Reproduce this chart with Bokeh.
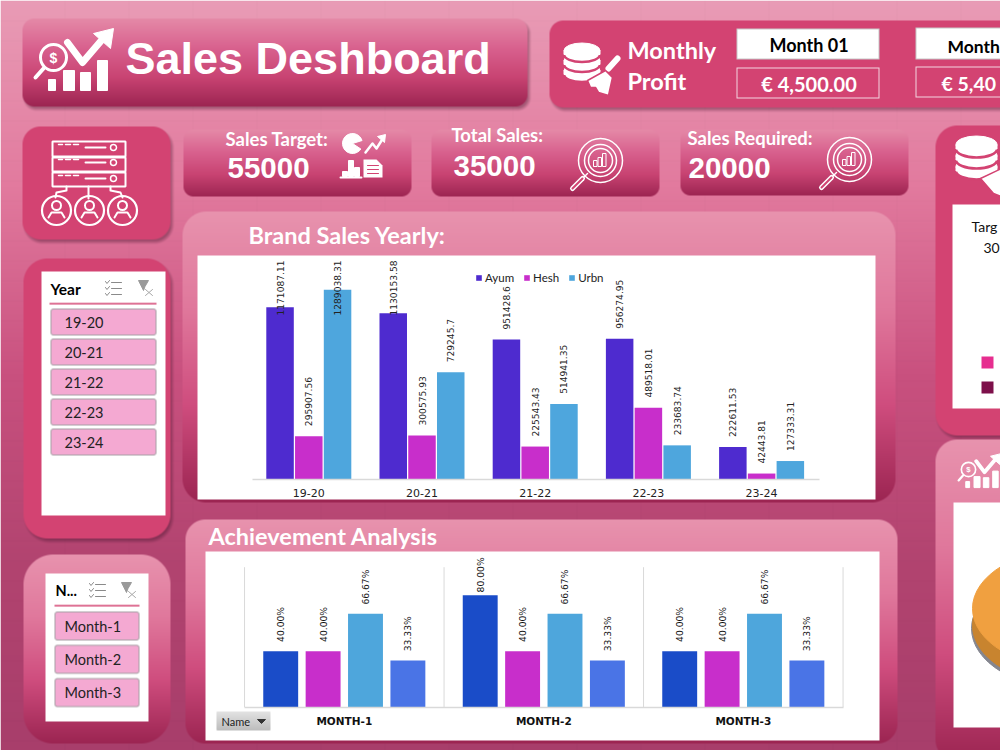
import math
import numpy as np
from bokeh.core.properties import value
from bokeh.embed import file_html
from bokeh.models import FixedTicker, Legend, LegendItem, LinearAxis, Range1d
from bokeh.plotting import figure
from bokeh.resources import INLINE

years = ["19-20", "20-21", "21-22", "22-23", "23-24"]
ayum = [1171087.11, 1130153.58, 951428.6, 956274.95, 222611.53]
hesh = [295907.56, 300575.93, 225543.43, 489518.01, 42443.81]
urbn = [1289038.31, 729245.7, 514941.35, 233683.74, 127333.31]

months = ["Month-1", "Month-2", "Month-3"]
ach_a = [40.0, 80.0, 40.0]
ach_b = [40.0, 40.0, 40.0]
ach_c = [66.67, 66.67, 66.67]
ach_d = [33.33, 33.33, 33.33]

sales_target = 55000
total_sales = 35000
sales_required = 20000
month_profit = "€ 4,500.00"

W, H = 1000, 750
PINK = "#d34372"
LATO = "Lato"
ARIAL = "Liberation Sans"
DEJA = "DejaVu Sans"

# ---------- background raster: page gradient and rounded panels ----------
rows = np.arange(H) + 1.5
cols = np.arange(W) + 1.5
xx, yy = np.meshgrid(cols, rows)


def hexrgb(c):
    return [int(c[i:i + 2], 16) for i in (1, 3, 5)]


def vgrad(y0, y1, stops):
    pos = np.linspace(0, 1, len(stops))
    t = np.clip((yy - y0) / (y1 - y0), 0, 1)
    rgb = np.array([hexrgb(s) for s in stops], dtype=float)
    return np.dstack([np.interp(t, pos, rgb[:, k]) for k in range(3)])


def sdf(x0, y0, x1, y1, r):
    dx = np.abs(xx - (x0 + x1) / 2) - ((x1 - x0) / 2 - r)
    dy = np.abs(yy - (y0 + y1) / 2) - ((y1 - y0) / 2 - r)
    return np.hypot(np.maximum(dx, 0), np.maximum(dy, 0)) + np.minimum(np.maximum(dx, dy), 0) - r


canvas = vgrad(0, H, ["#e99cb6", "#e27a9e", "#c9517f", "#b24470", "#a83e6b"])
# faint sheet gridlines
canvas[np.arange(H) % 20 == 0] *= 0.985
canvas[:, np.arange(W) % 64 == 0] *= 0.985


def panel(x0, y0, x1, y1, r, stops, shadow=False, edge=None):
    global canvas
    if shadow:
        d = sdf(x0 + 2, y0 + 3, x1 + 2, y1 + 3, r)
        a = np.clip(0.5 - d / 4, 0, 1)[..., None] * 0.4
        canvas = canvas * (1 - a) + np.array([70, 20, 45]) * a
    d = sdf(x0, y0, x1, y1, r)
    if edge:
        a = np.clip(0.5 - d, 0, 1)[..., None]
        canvas = canvas * (1 - a) + np.array(hexrgb(edge)) * a
        d = sdf(x0 + 1, y0 + 1, x1 - 1, y1 - 1, max(r - 1, 0))
    a = np.clip(0.5 - d, 0, 1)[..., None]
    canvas = canvas * (1 - a) + vgrad(y0, y1, stops) * a


CARD = ["#e58aa8", "#d9628f", "#c94473", "#9c2552"]
SOFT = ["#e893ae", "#e0789c", "#cf4d7e", "#9c2552"]
WHITE = ["#ffffff", "#ffffff"]
FLAT = [PINK, PINK]

panel(23, 19, 528, 107, 12, CARD, shadow=True)
panel(550, 21, 1030, 108, 14, FLAT, shadow=True)
panel(23, 127, 171, 240, 18, FLAT, shadow=True)
panel(184, 130, 412, 197, 10, CARD)
panel(432, 130, 660, 197, 10, CARD)
panel(681, 130, 909, 196, 10, CARD)
panel(183, 212, 896, 503, 24, SOFT)
panel(198, 256, 876, 500, 0, WHITE)
panel(24, 259, 171, 539, 24, FLAT, shadow=True)
panel(42, 272, 166, 516, 0, WHITE)
panel(24, 555, 171, 744, 30, SOFT)
panel(46, 574, 149, 722, 0, WHITE)
panel(186, 520, 898, 744, 20, SOFT)
panel(206, 552, 880, 741, 0, WHITE)
panel(936, 126, 1030, 436, 22, FLAT, shadow=True)
panel(953, 205, 1010, 409, 0, WHITE)
panel(936, 440, 1030, 762, 22, SOFT)
panel(954, 503, 1010, 728, 0, WHITE)
panel(737, 29, 880, 60, 0, WHITE, edge="#c8c8c8")
panel(916, 28, 1010, 60, 0, WHITE, edge="#c8c8c8")
panel(737, 68, 880, 99, 0, FLAT, edge="#f4d6e0")
panel(916, 67, 1010, 98, 0, FLAT, edge="#f4d6e0")

for i in range(len(years)):
    panel(51, 309 + 30 * i, 157, 336 + 30 * i, 3, ["#f4a9d2", "#f4a9d2"], edge="#a8a0a6")
for i in range(len(months)):
    panel(55, 612 + 33.3 * i, 140, 641 + 33.3 * i, 3, ["#f4a9d2", "#f4a9d2"], edge="#a8a0a6")
panel(50, 303.5, 157, 305, 0, FLAT)
panel(55, 605.5, 140, 607, 0, FLAT)
panel(217, 712, 271, 731, 1, ["#e2e2e2", "#bdbdbd"])

rgba = np.dstack([np.clip(canvas, 0, 255), np.full((H, W), 255.0)]).astype(np.uint8)

# ---------- figure in page pixels; the charts get their own ranges ----------
BRAND_K = 147.4e-6   # px per unit
BRAND_Y0 = 479.3
ACH_K = 1.40         # px per percent
ACH_Y0 = 706.7
BRAND_X0, BRAND_DX = 308.3, 113.2
ACH_X0, ACH_DX = 343.8, 199.5

p = figure(width=W, height=H, x_range=Range1d(0, W), y_range=Range1d(H, 0),
           x_axis_location=None, y_axis_location=None, toolbar_location=None,
           output_backend="svg", min_border=0, outline_line_color=None,
           styles={"position": "absolute", "left": "0", "top": "0"})
p.grid.visible = False
p.extra_x_ranges = {
    "brand": Range1d(-BRAND_X0 / BRAND_DX, (W - BRAND_X0) / BRAND_DX),
    "ach": Range1d(-ACH_X0 / ACH_DX, (W - ACH_X0) / ACH_DX),
}
p.extra_y_ranges = {
    "brand": Range1d((BRAND_Y0 - H) / BRAND_K, BRAND_Y0 / BRAND_K),
    "ach": Range1d((ACH_Y0 - H) / ACH_K, ACH_Y0 / ACH_K),
}

p.image_rgba(image=[rgba.view(dtype=np.uint32).reshape(H, W)], x=0, y=0, dw=W, dh=H)


def txt(x, y, s, size, color="white", bold=True, font=LATO, align="left"):
    p.text([x], [y], text=[str(s)], text_font=value(font), text_font_size=f"{size}px",
           text_color=color, text_align=align, text_baseline="middle",
           text_font_style="bold" if bold else "normal")


def segs(xs, ys, color="white", w=2.0):
    p.multi_line(xs, ys, line_color=color, line_width=w, line_cap="round", line_join="round")


def ring(x, y, r, color="white", w=2.0, fill=None):
    p.circle([x], [y], radius=r, fill_color=fill, line_color=color, line_width=w)


# ---------- brand chart ----------
brand_series = [("Ayum", ayum, "#4e2bcf"), ("Hesh", hesh, "#c82ecb"), ("Urbn", urbn, "#4ea6dd")]
items = []
for k, (name, vals, col) in enumerate(brand_series):
    xs = [i + (k - 1) * 0.254 for i in range(len(years))]
    r = p.vbar(x=xs, top=vals, bottom=0, width=0.243, fill_color=col, line_color=None,
               x_range_name="brand", y_range_name="brand")
    items.append(LegendItem(label=name, renderers=[r]))
    # labels sit above the bar, but stop at the top of the chart area
    label_y = [min(v + 68000, 1114700) for v in vals]
    p.text(xs, label_y, text=[str(v) for v in vals], angle=math.pi / 2, text_align="left",
           text_baseline="middle", text_font=value(DEJA), text_font_size="9.1px", text_color="#222222",
           x_range_name="brand", y_range_name="brand")

brand_axis = LinearAxis(x_range_name="brand", y_range_name="brand", fixed_location=0,
                        ticker=FixedTicker(ticks=list(range(len(years)))),
                        major_label_overrides={i: y for i, y in enumerate(years)},
                        bounds=(-0.496, 4.51), axis_line_color="#d9d9d9", axis_line_width=1.5,
                        major_tick_line_color=None, minor_tick_line_color=None,
                        major_tick_out=0, major_tick_in=0,
                        major_label_text_font=DEJA, major_label_text_font_size="11px",
                        major_label_text_color="#222222", major_label_standoff=9)
p.add_layout(brand_axis, "below")

legend = Legend(items=items, orientation="horizontal", location=(475, H - 284), padding=0, margin=0,
                spacing=9, glyph_width=7, glyph_height=7, label_standoff=3, label_height=12,
                label_text_font=LATO, label_text_font_size="11.5px", label_text_color="#222222",
                background_fill_alpha=0, border_line_color=None)
p.add_layout(legend, "center")

# ---------- achievement chart ----------
ach_series = [(ach_a, "#1a4cc8"), (ach_b, "#c82ecb"), (ach_c, "#4ea6dc"), (ach_d, "#4a74e6")]
for k, (vals, col) in enumerate(ach_series):
    xs = [i + (k - 1.5) * 0.2125 for i in range(len(months))]
    p.vbar(x=xs, top=vals, bottom=0, width=0.175, fill_color=col, line_color=None,
           x_range_name="ach", y_range_name="ach")
    label_y = [min(v + 6.6, 82) for v in vals]
    p.text(xs, label_y, text=[f"{v:.2f}%" for v in vals], angle=math.pi / 2, text_align="left",
           text_baseline="middle", text_font=value(DEJA), text_font_size="9.2px", text_color="#111111",
           x_range_name="ach", y_range_name="ach")

p.segment(x0=[-0.5, 0.5, 1.5, 2.5], y0=0, x1=[-0.5, 0.5, 1.5, 2.5], y1=100, line_color="#d9d9d9",
          line_width=1, x_range_name="ach", y_range_name="ach")
ach_axis = LinearAxis(x_range_name="ach", y_range_name="ach", fixed_location=0,
                      ticker=FixedTicker(ticks=list(range(len(months)))),
                      major_label_overrides={i: m.upper() for i, m in enumerate(months)},
                      bounds=(-0.5, 2.5), axis_line_color="#d9d9d9", axis_line_width=1.5,
                      major_tick_line_color=None, minor_tick_line_color=None,
                      major_tick_out=0, major_tick_in=0,
                      major_label_text_font=DEJA, major_label_text_font_size="10.5px",
                      major_label_text_font_style="bold", major_label_text_color="#111111",
                      major_label_standoff=8)
p.add_layout(ach_axis, "below")
txt(221, 721, "Name", 11, "#222222", bold=False)
p.patch([257, 265, 261], [719, 719, 723], color="#333333")

# ---------- headings and KPI texts ----------
txt(125, 58, "Sales Deshboard", 45, font=ARIAL)
txt(627, 49, "Monthly", 23.5)
txt(627, 80, "Profit", 23.5)
txt(808.5, 44.5, "Month 01", 18, "#000000", align="center")
txt(947, 45.5, "Month", 17.5, "#000000")
txt(808.5, 83, month_profit, 20, align="center")
txt(941, 83, "€ 5,40", 19.5)

txt(225, 138, "Sales Target:", 18.5)
txt(227, 167, sales_target, 29.5, font=ARIAL)
txt(451, 134, "Total Sales:", 18.5)
txt(453, 165, total_sales, 29.5, font=ARIAL)
txt(687, 137, "Sales Required:", 18.5)
txt(688, 167, sales_required, 29.5, font=ARIAL)
txt(248, 234, "Brand Sales Yearly:", 23.5)
txt(208, 535, "Achievement Analysis", 23.5)

# ---------- slicers ----------
txt(50, 288, "Year", 15.5, "#000000")
for i, y in enumerate(years):
    txt(64, 322 + 30 * i, y, 14.5, "#222222", bold=False)
txt(55, 590, "N...", 14.5, "#000000")
for i, m in enumerate(months):
    txt(64, 625.5 + 33.3 * i, m, 14.5, "#222222", bold=False)


def slicer_icons(x1, x2, y):
    for j in range(3):
        segs([[x1 + 6, x1 + 16]], [[y - 6 + 6 * j] * 2], "#8a8a8a", 1)
        segs([[x1, x1 + 1.5, x1 + 4]], [[y - 7 + 6 * j, y - 5 + 6 * j, y - 8 + 6 * j]], "#8a8a8a", 1)
    p.patch([x2, x2 + 10, x2 + 6.5, x2 + 5], [y - 8, y - 8, y - 2, y + 2], color="#9a9a9a")
    segs([[x2 + 7, x2 + 14], [x2 + 7, x2 + 14]], [[y + 1, y + 7], [y + 7, y + 1]], "#a8a8a8", 1)


slicer_icons(105, 138, 288)
slicer_icons(89, 121, 590)

# ---------- icons ----------
def title_icon(ox, oy, s):
    mx = lambda v: ox + (v - 33) * s
    my = lambda v: oy + (v - 28) * s
    ring(mx(53), my(57), 13 * s, w=3 * s)
    segs([[mx(43), mx(35)]], [[my(68), my(77)]], w=4 * s)
    p.text([mx(53)], [my(57)], text=["$"], text_font=value(ARIAL), text_font_style="bold",
           text_font_size=f"{14 * s}px", text_color="white", text_align="center", text_baseline="middle")
    p.quad(left=[mx(v) for v in (48, 63, 80, 97)], right=[mx(v) for v in (55, 74, 90, 107)],
           top=[my(v) for v in (79, 70, 72, 60)], bottom=[my(90)] * 4, color="white")
    segs([[mx(67), mx(82), mx(106)]], [[my(42), my(62), my(34)]], w=7 * s)
    p.patch([mx(93), mx(113), mx(110)], [my(33), my(28), my(48)], color="white")


def database(cx, y, rx, ry, bh, step, bg):
    for i in (2, 1, 0):
        y0 = y + i * step
        p.ellipse([cx], [y0 + bh], width=2 * rx, height=2 * ry, fill_color="white", line_color=bg, line_width=2.5)
        p.quad(left=[cx - rx], right=[cx + rx], top=[y0], bottom=[y0 + bh], color="white")
        p.ellipse([cx], [y0], width=2 * rx, height=2 * ry, color="white")


def search_icon(cx, cy, hx, hy):
    ring(cx, cy, 22, w=1.5)
    ring(cx, cy, 16, w=1.5)
    ring(cx, cy, 12, w=1.5)
    p.quad(left=[cx - 7, cx - 2.5, cx + 2], right=[cx - 3.5, cx + 1, cx + 5.5], top=[cy, cy - 3, cy - 7],
           bottom=[cy + 6] * 3, fill_color=None, line_color="white", line_width=1)
    segs([[cx - 13, cx - 18]], [[cy + 13, cy + 18]], w=1.5)
    segs([[cx - 18, hx]], [[cy + 18, hy]], w=5)
    segs([[cx - 18, hx]], [[cy + 18, hy]], PINK, 2)


title_icon(33, 28, 1)
title_icon(957, 453, 0.55)

database(581.5, 50, 18, 7.5, 4, 10, PINK)
segs([[617, 608]], [[58, 68]], w=6)
p.patch([587, 605, 612, 608, 598, 595, 590], [80, 70, 77, 95, 92, 87, 87], fill_color="white",
        line_color=PINK, line_width=1.5)
database(976, 144, 20.5, 8.5, 4.5, 11, PINK)
p.patch([980, 1001, 1001, 993], [178, 168, 196, 193], fill_color="white", line_color=PINK, line_width=1.5)

# org chart
p.quad(left=[52, 52, 52], right=[125, 125, 125], top=[141, 157, 172], bottom=[156, 171, 186],
       fill_color=None, line_color="white", line_width=2)
for yy0 in (147, 162, 178):
    segs([[85, 105]], [[yy0, yy0]], w=2)
    ring(113, yy0, 3, w=1.5)
    segs([[58, 62], [65, 70], [73, 78]], [[yy0 - 3] * 2] * 3, w=1.5)
segs([[88, 88], [66, 66, 56, 55], [110, 110, 120, 122]], [[186, 198], [186, 190, 192, 197], [186, 190, 192, 197]])
for cx in (56, 89, 122):
    ring(cx, 210, 14.5, w=2.2)
    ring(cx, 205, 4.5, w=2)
    segs([[cx - 8, cx - 5, cx + 5, cx + 8]], [[217, 212, 212, 217]], w=2)

# KPI icons
p.wedge([352], [143], radius=10, start_angle=0.3, end_angle=5.7, color="white")
segs([[365, 372, 376, 383]], [[152, 143, 148, 137]], w=2.5)
p.patch([377, 385, 384], [136, 134, 142], color="white")
p.quad(left=[342, 348, 354], right=[347, 353, 359], top=[171, 160, 167], bottom=[176] * 3, color="white")
segs([[340, 361]], [[177, 177]], w=2)
p.patch([363, 376, 382, 382, 363], [159, 159, 165, 177, 177], fill_color="white", line_color=None)
segs([[367, 378], [367, 378], [367, 378]], [[165, 165], [169, 169], [173, 173]], PINK, 1)
search_icon(600, 160, 572, 188)
search_icon(849, 159, 821, 187)

# right hand panels, cut off by the window
txt(971, 226, "Targ", 14, "#111111", bold=False)
txt(983, 247, "30", 14, "#111111", bold=False)
p.quad(left=[981, 981], right=[993, 993], top=[356, 381], bottom=[368, 393], fill_color=["#e62e8f", "#7d0f4a"], line_color=None)
p.ellipse([1072], [628], width=202, height=122, color="#85868f")
p.ellipse([1072], [625], width=200, height=120, color="#c8842f")
p.ellipse([1072], [608], width=200, height=120, color="#f0a040")

open("out.html", "w").write(file_html(p, INLINE))
